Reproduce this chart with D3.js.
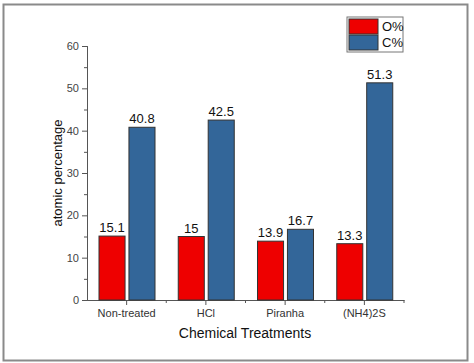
<!DOCTYPE html>
<html>
<head>
<meta charset="utf-8">
<script src="https://cdn.jsdelivr.net/npm/d3@7"></script>
<style>
  body { margin: 0; background: #fff; }
  text { font-family: Arial, "Liberation Sans", sans-serif; }
</style>
</head>
<body>
<div id="chart"></div>
<script>
const categories = ["Non-treated", "HCl", "Piranha", "(NH4)2S"];
const seriesNames = ["O%", "C%"];
const oValues = [15.1, 15, 13.9, 13.3];
const cValues = [40.8, 42.5, 16.7, 51.3];
const oLabels = ["15.1", "15", "13.9", "13.3"];
const cLabels = ["40.8", "42.5", "16.7", "51.3"];
const yTicks = [0, 10, 20, 30, 40, 50, 60];

const width = 474, height = 363;
const colors = ["#ee0000", "#336699"];

const svg = d3.select("#chart").append("svg")
    .attr("width", width)
    .attr("height", height);

// outer frame
svg.append("rect")
    .attr("x", 3.5).attr("y", 4.5)
    .attr("width", 464).attr("height", 356)
    .attr("fill", "none")
    .attr("stroke", "#8a8a8a")
    .attr("stroke-width", 2);

const x = d3.scaleBand()
    .domain(categories)
    .range([87, 404]);

const xInner = d3.scaleBand()
    .domain(seriesNames)
    .range([12, 68])
    .paddingInner(0.13);

const y = d3.scaleLinear()
    .domain([0, 60])
    .range([300, 46]);

const data = categories.map((c, i) => ({ cat: c, vals: [
    { s: seriesNames[0], v: oValues[i], label: oLabels[i] },
    { s: seriesNames[1], v: cValues[i], label: cLabels[i] }
]}));

// y axis
const yAxis = svg.append("g")
    .attr("transform", "translate(87,0)")
    .call(d3.axisLeft(y).tickValues(yTicks).tickSize(5).tickPadding(3));
yAxis.append("g")
    .call(d3.axisLeft(y).tickValues(d3.range(5, 60, 10)).tickSize(3).tickFormat(""));
yAxis.selectAll("path, line").attr("stroke", "#555");
yAxis.selectAll("text").attr("fill", "#444").style("font-size", "11px");

// x axis: major ticks at category centres, minor at boundaries
const xAxis = svg.append("g")
    .attr("transform", "translate(0,300)")
    .call(d3.axisBottom(x).tickSize(5).tickPadding(4).tickSizeOuter(0));
xAxis.append("g")
    .selectAll("line")
    .data(categories.slice(1).map(d => x(d)).concat([x.range()[1]]))
    .join("line")
    .attr("x1", d => d).attr("x2", d => d)
    .attr("y1", 0).attr("y2", 3)
    .attr("stroke", "#555");
xAxis.selectAll("path, line").attr("stroke", "#555");
xAxis.selectAll("text").attr("fill", "#333").style("font-size", "11px");

// bars
const groups = svg.append("g").selectAll("g")
    .data(data)
    .join("g")
    .attr("transform", d => `translate(${x(d.cat)},0)`);

groups.selectAll("rect")
    .data(d => d.vals)
    .join("rect")
    .attr("x", d => xInner(d.s))
    .attr("width", xInner.bandwidth())
    .attr("y", d => y(d.v))
    .attr("height", d => y(0) - y(d.v))
    .attr("fill", (d, i) => colors[i])
    .attr("stroke", "#333")
    .attr("stroke-width", 1);

groups.selectAll("text")
    .data(d => d.vals)
    .join("text")
    .attr("x", d => xInner(d.s) + xInner.bandwidth() / 2)
    .attr("y", d => y(d.v) - 4)
    .attr("text-anchor", "middle")
    .style("font-size", "13px")
    .attr("fill", "#111")
    .text(d => d.label);

// axis titles
svg.append("text")
    .attr("transform", "translate(62,173) rotate(-90)")
    .attr("text-anchor", "middle")
    .style("font-size", "13px")
    .attr("fill", "#111")
    .text("atomic percentage");

svg.append("text")
    .attr("x", 245).attr("y", 338)
    .attr("text-anchor", "middle")
    .style("font-size", "14px")
    .attr("fill", "#111")
    .text("Chemical Treatments");

// legend
const legend = svg.append("g").attr("transform", "translate(347,17)");
legend.append("rect")
    .attr("width", 56).attr("height", 35)
    .attr("fill", "#fff")
    .attr("stroke", "#777");
const items = legend.selectAll("g")
    .data(seriesNames)
    .join("g")
    .attr("transform", (d, i) => `translate(2,${2 + i * 16})`);
items.append("rect")
    .attr("width", 29).attr("height", 15)
    .attr("fill", (d, i) => colors[i])
    .attr("stroke", "#333");
items.append("text")
    .attr("x", 33).attr("y", 12)
    .style("font-size", "13px")
    .attr("fill", "#111")
    .text(d => d);
</script>
</body>
</html>
